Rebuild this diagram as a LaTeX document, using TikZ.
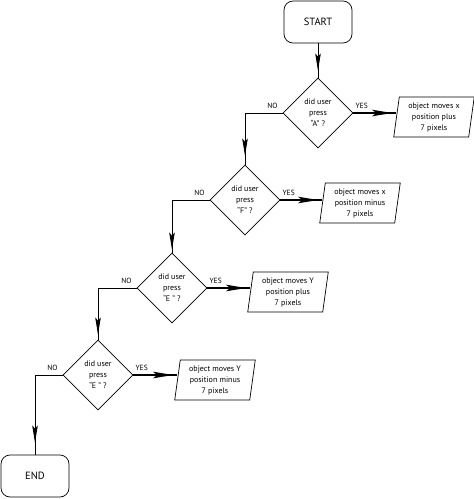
\documentclass[tikz,border=0pt]{standalone}
\usepackage{fontspec}
\setmainfont{PT Sans}
\usetikzlibrary{shapes.geometric,arrows.meta,calc}
\begin{document}
\begin{tikzpicture}[x=1pt,y=-1pt,
  every node/.style={font=\fontsize{8}{11}\selectfont},
  term/.style={draw, line width=0.7pt, rounded corners=9pt, minimum width=68pt, minimum height=42pt, inner sep=0pt, font=\fontsize{10.5}{12}\selectfont},
  decide/.style={draw, line width=0.7pt, diamond, aspect=1, minimum width=70pt, minimum height=70pt, inner sep=0pt, align=center},
  para/.style={draw, line width=0.7pt, trapezium, trapezium left angle=82, trapezium right angle=98, trapezium stretches=true, minimum width=81pt, minimum height=40pt, inner sep=0pt, align=center},
  lbl/.style={inner sep=0pt, font=\fontsize{7.5}{9}\selectfont},
  wire/.style={line width=0.9pt},
  tip/.style={line width=0.9pt, -{Stealth[length=17pt,width=5.5pt,inset=3pt]}, shorten >=#1},
  yesw/.style={line width=1.6pt},
  yestip/.style={line width=1.6pt, -{Stealth[length=20pt,width=6.5pt,inset=4pt]}, shorten >=#1}
]
\useasboundingbox (0,0) rectangle (474,499);

\node[term] (start) at (318,22) {START};
\node[decide] (d1) at (318,113) {did user\\press\\“A” ?};
\node[decide] (d2) at (245,200) {did user\\press\\“F” ?};
\node[decide] (d3) at (172,288) {did user\\press\\“E ” ?};
\node[decide] (d4) at (98,375) {did user\\press\\“E ” ?};
\node[term] (end) at (35,476) {END};

\node[para] (p1) at (434,117) {object moves x\\position plus\\7 pixels};
\node[para] (p2) at (360,203) {object moves x\\position minus\\7 pixels};
\node[para] (p3) at (288,292) {object moves Y\\position plus\\7 pixels};
\node[para] (p4) at (215,380) {object moves Y\\position minus\\7 pixels};

% start -> d1
\draw[wire] (start.south) -- (d1.north);
\draw[tip=7pt] (start.south) -- (d1.north);

% NO branches
\draw[wire] (d1.west) -| (d2.north);
\draw[tip=9pt] (d1.west) -| (d2.north);
\draw[wire] (d2.west) -| (d3.north);
\draw[tip=3pt] (d2.west) -| (d3.north);
\draw[wire] (d3.west) -| (d4.north);
\draw[tip=5pt] (d3.west) -| (d4.north);
\draw[wire] (d4.west) -| (end.north);
\draw[tip=12pt] (d4.west) -| (end.north);

% YES branches
\foreach \i in {1,2,3,4}{
  \draw[yesw] (d\i.east) -- (d\i.east -| p\i.west);
  \draw[yestip=4pt] (d\i.east) -- (d\i.east -| p\i.west);
}

% labels
\node[lbl, anchor=south east] (no1) at ($(d1.west)+(-5,-4)$) {NO};
\node[lbl, anchor=south east] (no2) at ($(d2.west)+(-5,-4)$) {NO};
\node[lbl, anchor=south east] (no3) at ($(d3.west)+(-5,-4)$) {NO};
\node[lbl, anchor=south east] (no4) at ($(d4.west)+(-5,-4)$) {NO};
\node[lbl, anchor=south west] (yes1) at ($(d1.east)+(2,-4)$) {YES};
\node[lbl, anchor=south west] (yes2) at ($(d2.east)+(2,-4)$) {YES};
\node[lbl, anchor=south west] (yes3) at ($(d3.east)+(2,-4)$) {YES};
\node[lbl, anchor=south west] (yes4) at ($(d4.east)+(2,-4)$) {YES};
\end{tikzpicture}
\end{document}
